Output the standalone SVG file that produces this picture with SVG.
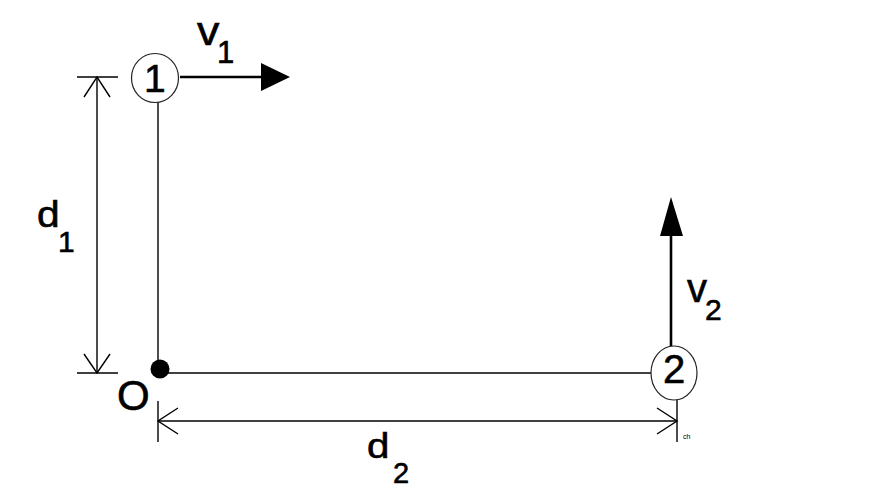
<svg xmlns="http://www.w3.org/2000/svg" width="890" height="498" viewBox="0 0 890 498">
<style>
  .thin { stroke:#000; stroke-width:1.4; fill:none; }
  .thick { stroke:#000; stroke-width:2.6; fill:none; }
  .node { stroke:#222; stroke-width:1.2; fill:#fff; }
  .lbl { font-family:"Liberation Sans", Arial, sans-serif; fill:#000; stroke:#000; stroke-width:0.6; }
</style>
<rect width="890" height="498" fill="#fff"/>
<g id="connectors">
  <line class="thin" x1="158" y1="102" x2="158" y2="369"/>
  <line class="thin" x1="160" y1="373" x2="651" y2="373"/>
  <line class="thick" x1="180" y1="77" x2="263" y2="77"/>
  <polygon points="261,63 290,77 261,91" fill="#000"/>
  <line class="thick" x1="671" y1="346" x2="671" y2="234"/>
  <polygon points="660,236 671,197 683,236" fill="#000"/>
  <line class="thin" x1="97" y1="77" x2="97" y2="373"/>
  <line class="thin" x1="77" y1="77" x2="118" y2="77"/>
  <line class="thin" x1="77" y1="373" x2="118" y2="373"/>
  <polyline class="thin" points="84,97 97,77 110,97"/>
  <polyline class="thin" points="84,354 97,373 110,354"/>
  <line class="thin" x1="158" y1="421" x2="677" y2="421"/>
  <line class="thin" x1="158" y1="401" x2="158" y2="442"/>
  <line class="thin" x1="677" y1="400" x2="677" y2="442"/>
  <polyline class="thin" points="178,408 158,421 178,434"/>
  <polyline class="thin" points="657,408 677,421 657,434"/>
</g>
<g id="node1">
  <ellipse class="node" cx="155" cy="78" rx="23.5" ry="24.5"/>
  <text class="lbl" x="144" y="92" font-size="39">1</text>
</g>
<g id="node2">
  <ellipse class="node" cx="674" cy="373" rx="23" ry="27"/>
  <text class="lbl" x="663" y="383" font-size="40">2</text>
</g>
<g id="origin">
  <circle cx="160" cy="369" r="9.5" fill="#000"/>
  <text class="lbl" x="117" y="410" font-size="42">O</text>
</g>
<g id="labels">
  <text class="lbl" transform="translate(197,45) scale(1.12,1)" font-size="40">v</text>
  <text class="lbl" x="217" y="63" font-size="31">1</text>
  <text class="lbl" transform="translate(687,302)" font-size="40">v</text>
  <text class="lbl" x="705" y="320" font-size="30">2</text>
  <text class="lbl" transform="translate(37,227) scale(1.1,1)" font-size="37">d</text>
  <text class="lbl" x="58" y="252" font-size="30">1</text>
  <text class="lbl" transform="translate(367,458) scale(1.15,1)" font-size="35">d</text>
  <text class="lbl" x="393" y="483" font-size="29">2</text>
  <text x="683" y="439" font-size="7" font-family="Liberation Sans, Arial, sans-serif">ch</text>
</g>
</svg>
